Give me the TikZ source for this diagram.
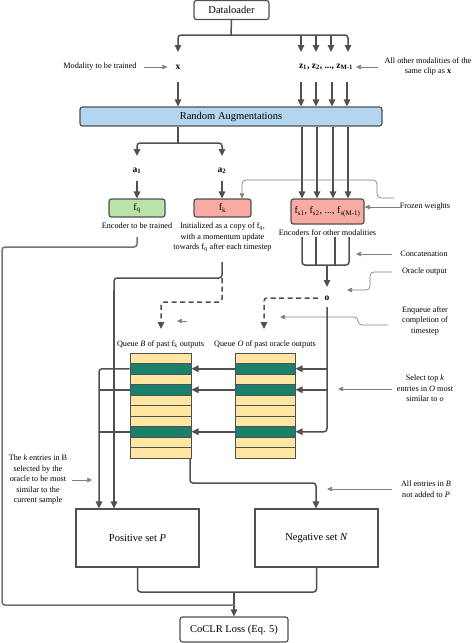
\documentclass[tikz,border=0pt]{standalone}
\usepackage{fontspec}
\setmainfont{Liberation Serif}
\usetikzlibrary{arrows.meta,positioning}
\definecolor{lineg}{HTML}{505050}
\definecolor{noteg}{HTML}{808080}
\definecolor{augblue}{HTML}{B3D5F0}
\definecolor{encgreen}{HTML}{BBE2A8}
\definecolor{encred}{HTML}{F8ABA3}
\definecolor{qyel}{HTML}{FFE6A3}
\definecolor{qteal}{HTML}{1A7F6B}
\newcommand{\bigf}{\fontsize{10.5}{12.5}\selectfont}
\newcommand{\midf}{\fontsize{9.5}{11}\selectfont}
\newcommand{\smallf}{\fontsize{8.2}{10.5}\selectfont}
\begin{document}
\begin{tikzpicture}[x=1pt, y=-1pt, node distance=5pt,
  ln/.style = {draw=lineg, line width=1.5pt},
  arr/.style = {ln, -{Triangle[length=7pt,width=6.5pt]}},
  dasharr/.style = {arr, dash pattern=on 5pt off 3.5pt},
  note/.style = {draw=noteg, line width=0.7pt, -{Triangle[length=5pt,width=4.5pt]}},
  box/.style = {draw=lineg, line width=1.2pt, rounded corners=2.5pt, inner sep=0pt, font=\bigf},
  enc/.style = {box, minimum height=18pt, font=\fontsize{10}{12}\selectfont},
  setbox/.style = {draw=lineg, line width=1.2pt, minimum width=123pt, minimum height=58pt, font=\bigf},
  txt/.style = {inner sep=0pt, align=center, font=\smallf},
  cell/.style = {draw=lineg, line width=1pt, minimum height=10.5pt, inner sep=0pt}]
\useasboundingbox (0,0) rectangle (474,643);

\node[box, minimum width=75pt, minimum height=19pt] (dl) at (231.5,10) {Dataloader};
\node[inner sep=0pt, font=\midf] (x) at (178,67) {\textbf{x}};
\node[inner sep=0pt, font=\midf] (z) at (326,67) {\textbf{z\textsubscript{1}, z\textsubscript{2}, ..., z\textsubscript{M-1}}};
\node[txt] (mt) at (100,67) {Modality to be trained};
\node[txt] (ao) at (428,66.5) {All other modalities of the\\same clip as \textbf{x}};

\draw[ln] (dl.south) -- (231,35);
\draw[arr, rounded corners=3pt] (231,35) -| (178,52);
\draw[arr, rounded corners=3pt] (231,35) -| (348,52);
\foreach \zx in {301,316,331}
  \draw[arr] (\zx,35) -- (\zx,52);
\draw[note, shorten <=7pt, shorten >=8pt] (mt) -- (x);
\draw[note] (378,67) -- (356,67);

\node[box, fill=augblue, minimum width=302pt, minimum height=19pt] (ra) at (231,116.5) {Random Augmentations};
\draw[arr] (178,82) -- (178,0 |- ra.north);
\foreach \zx in {301,316,332,347}
  \draw[arr] (\zx,82) -- (\zx,0 |- ra.north);

\node[inner sep=0pt, font=\midf] (a1) at (137,171) {\textbf{a\textsubscript{1}}};
\node[inner sep=0pt, font=\midf] (a2) at (222,171) {\textbf{a\textsubscript{2}}};
\draw[ln] (178,0 |- ra.south) -- (178,143);
\draw[arr, rounded corners=3pt] (178,143) -| (137,156);
\draw[arr, rounded corners=3pt] (178,143) -| (222,156);

\node[enc, fill=encgreen, minimum width=56pt] (fq) at (137,208) {f\textsubscript{q}};
\node[enc, fill=encred, minimum width=57pt] (fk) at (222.5,208) {f\textsubscript{k}};
\node[enc, fill=encred, minimum width=73pt, minimum height=25pt] (fs) at (327.5,211.5) {f\textsubscript{s1}, f\textsubscript{s2}, ..., f\textsubscript{s(M-1)}};
\draw[arr] (137,181) -- (fq.north);
\draw[arr] (222,181) -- (222,0 |- fk.north);
\foreach \zx in {302,317,333,348}
  \draw[arr] (\zx,0 |- ra.south) -- (\zx,0 |- fs.north);

\node[txt, below=of fq] (eq) {Encoder to be trained};
\node[txt, below=of fk] (fkt) {Initialized as a copy of f\textsubscript{q},\\with a momentum update\\towards f\textsubscript{q} after each timestep};
\node[txt, below=of fs] (eo) {Encoders for other modalities};
\node[txt] (fw) at (425,207) {Frozen weights};
\draw[note] (fw.west) -- (fw.west -| fs.east);
\draw[note, rounded corners=4pt] (394,198) -| (377,180) -| (242,0 |- fk.north);

% oracle
\draw[ln, rounded corners=3pt] (302,237) |- (327,265) -| (349,237);
\draw[ln] (316,237) -- (316,265);
\draw[ln] (335,237) -- (335,265);
\draw[arr] (327,265) -- (327,287);
\node[inner sep=0pt, font=\midf] (o) at (327,298) {\textbf{o}};
\node[txt] (cc) at (424,254) {Concatenation};
\node[txt] (oo) at (424.5,272) {Oracle output};
\draw[note] (392,254) -- (356,254);
\draw[note, rounded corners=4pt] (392,272) -| (370,290) -- (347,290);

% queues
\foreach \i/\c in {1/qyel,2/qteal,3/qyel,4/qteal,5/qyel,6/qyel,7/qyel,8/qteal,9/qyel,10/qyel} {
  \node[cell, fill=\c, minimum width=61pt] (B\i) at (160.5,{347.75+10.5*\i}) {};
  \node[cell, fill=\c, minimum width=60pt] (O\i) at (265,{347.75+10.5*\i}) {};
}
\node[txt, above=4pt of B1] (qb) {Queue \textit{B} of past f\textsubscript{k} outputs};
\node[txt, above=4pt of O1] (qo) {Queue \textit{O} of past oracle outputs};

\draw[ln, rounded corners=3pt] (222,262) -- (222,278) -| (114,300);
\draw[dasharr, rounded corners=3pt] (222,278) |- (161,302) -- (161,329);
\draw[dasharr, rounded corners=3pt] (318,298) -| (264,329);
\node[txt] (enq) at (425,320.5) {Enqueue after\\completion of\\timestep};
\draw[note, rounded corners=4pt] (388,325) -| (358,317) -- (280,317);
\draw[note] (187,321) -- (177,321);

\draw[arr, rounded corners=3pt] (327,307) |- (O8.east);
\draw[arr] (O2.east -| 327,0) -- (O2.east);
\draw[arr] (O4.east -| 327,0) -- (O4.east);
\foreach \i in {2,4,8}
  \draw[arr] (O\i.west) -- (B\i.east);
\node[txt] (sel) at (425,388.5) {Select top \textit{k}\\entries in \textit{O} most\\similar to \textit{o}};
\draw[note] (392,389) -- (338,389);

% sets
\node[setbox] (P) at (137.5,538) {Positive set \textit{P}};
\node[setbox] (N) at (316.5,538) {Negative set \textit{N}};
\draw[arr, rounded corners=3pt] (B2.west) -| (99,0 |- P.north);
\draw[ln] (B4.west) -- (99,389.75);
\draw[ln] (B8.west) -- (99,431.75);
\draw[arr] (114,290) -- (114,0 |- P.north);
\draw[arr, rounded corners=3pt] (190,0 |- B10.south) |- (316,483) -- (316,0 |- N.north);
\node[txt] (ke) at (38,480) {The \textit{k} entries in B\\selected by the\\oracle to be most\\similar to the\\current sample};
\draw[note] (72,480) -- (92,480);
\node[txt] (all) at (426,489) {All entries in \textit{B}\\not added to \textit{P}};
\draw[note] (392,489) -- (327,489);

% loss
\node[box, minimum width=108pt, minimum height=25pt] (loss) at (234,629.5) {CoCLR Loss (Eq. 5)};
\draw[ln, rounded corners=3pt] (P.south) |- (234,592) -| (N.south);
\draw[arr] (234,592) -- (loss.north);
\draw[ln, draw=lineg!80, rounded corners=3pt] (137,237) |- (2,247) |- (234,605);
\end{tikzpicture}
\end{document}
